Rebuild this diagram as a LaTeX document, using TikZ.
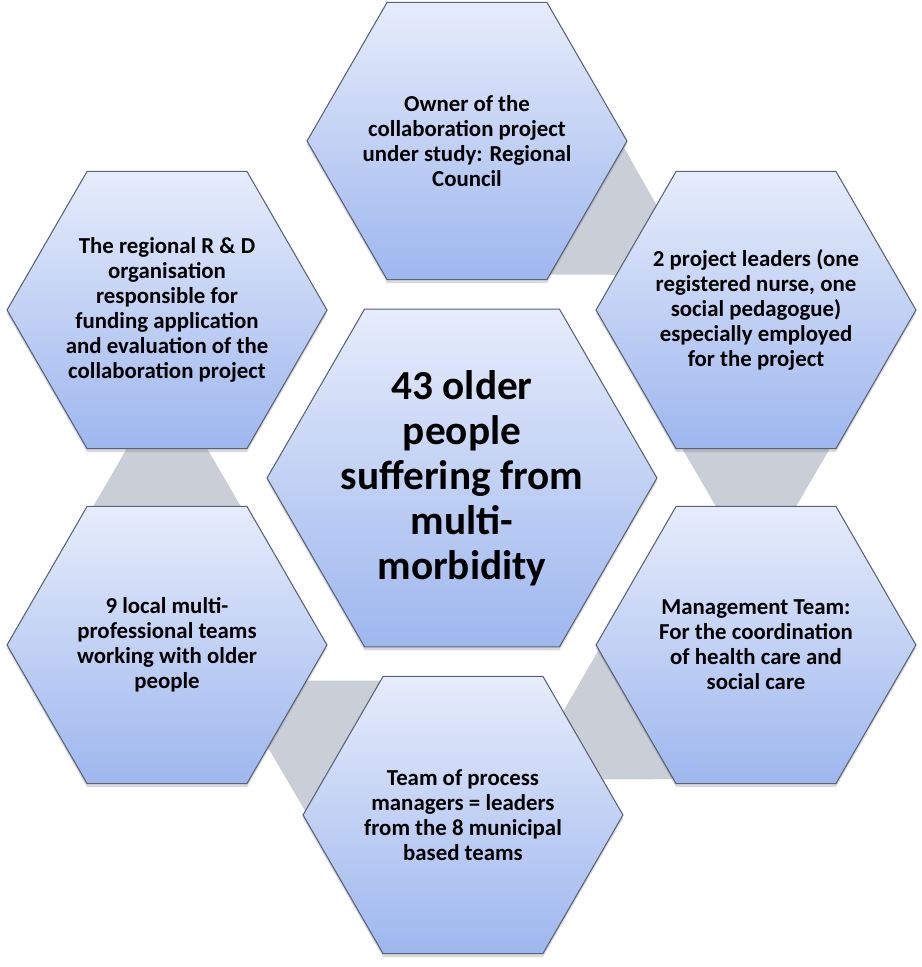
\documentclass[tikz,border=0pt]{standalone}
\usepackage{fontspec}
\setmainfont{Carlito}
\usetikzlibrary{shapes.geometric, calc, backgrounds, shadows}

\definecolor{hexlight}{RGB}{230,236,251}
\definecolor{hexdark}{RGB}{158,183,238}
\definecolor{hexline}{RGB}{88,98,118}
\definecolor{linkgray}{RGB}{201,206,215}

\begin{document}
\begin{tikzpicture}[
    x=0.02cm, y=-0.02cm,
    % --- Outer Hexagon Style ---
    hexagon/.style={
        regular polygon,
        regular polygon sides=6,
        draw=hexline,
        line width=0.6pt,
        top color=hexlight,
        bottom color=hexdark,
        drop shadow={shadow xshift=0pt, shadow yshift=-2pt, opacity=0.3},
        inner sep=0pt,
        minimum size=6.4cm
    },
    % --- Central Hexagon ---
    core hexagon/.style={
        hexagon,
        minimum size=7.8cm
    },
    % --- Texts set on the hexagons ---
    hex text/.style={
        align=center,
        inner sep=0pt,
        font=\bfseries\fontsize{13pt}{14.2pt}\selectfont
    },
    core text/.style={
        hex text,
        font=\bfseries\fontsize{23.5pt}{25.6pt}\selectfont
    },
    % --- Gray Links between neighbours ---
    link/.style={
        fill=linkgray
    }
]

    \useasboundingbox (0,0) rectangle (921,967);

    % =========================================
    % 1. HEXAGONS
    % =========================================

    % Centre
    \node[core hexagon] (core) at (462,478) {};
    \node[core text] (core-t) at (core) {
        43 older\\ people\\ suffering from\\ multi-\\ morbidity
    };

    % Ring, clockwise from the top
    \node[hexagon] (owner) at (467,141) {};
    \node[hex text] (owner-t) at (owner) {
        Owner of the\\ collaboration project\\ under study: Regional\\ Council
    };

    \node[hexagon] (leaders) at (756,310) {};
    \node[hex text] (leaders-t) at (leaders) {
        2 project leaders (one\\ registered nurse, one\\ social pedagogue)\\ especially employed\\ for the project
    };

    \node[hexagon] (mgmt) at (756,645) {};
    \node[hex text] (mgmt-t) at (mgmt) {
        Management Team:\\ For the coordination\\ of health care and\\ social care
    };

    \node[hexagon] (managers) at (463,815) {};
    \node[hex text] (managers-t) at (managers) {
        Team of process\\ managers = leaders\\ from the 8 municipal\\ based teams
    };

    \node[hexagon] (locals) at (167,645) {};
    \node[hex text] (locals-t) at (locals) {
        9 local multi-\\ professional teams\\ working with older\\ people
    };

    \node[hexagon] (rnd) at (167,310) {};
    \node[hex text] (rnd-t) at (rnd) {
        The regional R \& D\\ organisation\\ responsible for\\ funding application\\ and evaluation of the\\ collaboration project
    };

    % =========================================
    % 2. LINKS (wide end at the first hexagon)
    % =========================================

    \begin{scope}[on background layer]
        \foreach \wide/\narrow in {owner/leaders, leaders/mgmt, mgmt/managers, managers/locals, locals/rnd} {
            \fill[link]
                ($(\wide)!0.3!(\narrow)!1.92cm!90:(\narrow)$) --
                ($(\wide)!0.7!(\narrow)!0.36cm!90:(\narrow)$) --
                ($(\wide)!0.7!(\narrow)!0.36cm!-90:(\narrow)$) --
                ($(\wide)!0.3!(\narrow)!1.92cm!-90:(\narrow)$) -- cycle;
        }
    \end{scope}

\end{tikzpicture}
\end{document}
